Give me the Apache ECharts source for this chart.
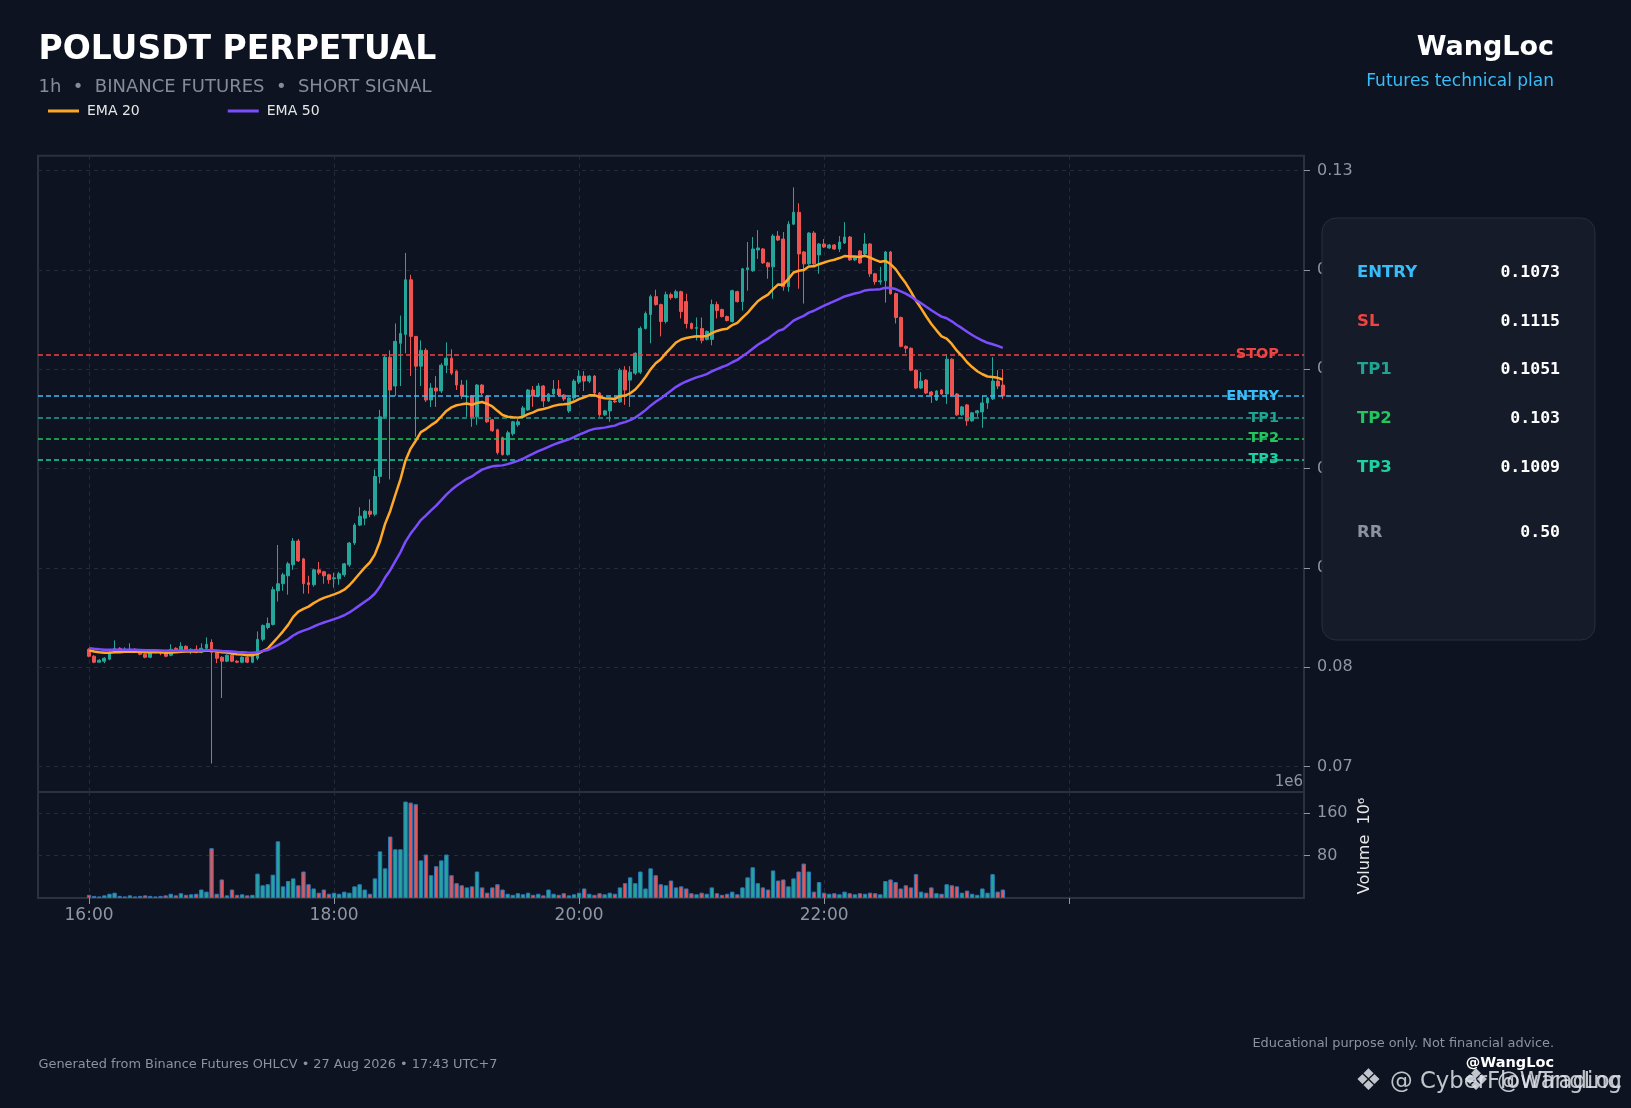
<!DOCTYPE html>
<html>
<head>
<meta charset="utf-8">
<script src="https://cdn.jsdelivr.net/npm/echarts@6/dist/echarts.min.js"></script>
<style>
html,body{margin:0;padding:0;background:#0d1320;}
#c{width:1631px;height:1108px;}
</style>
</head>
<body>
<div id="c"></div>
<script>
// ---------- DATA ----------
// Each row: [open, high, low, close]
const ohlc = [
[.0818,.0819,.0810,.0811],[.0811,.0812,.0804,.0805],[.0805,.0808,.0805,.0807],[.0806,.0810,.0804,.0809],
[.0808,.0816,.0807,.0815],[.0815,.0827,.0814,.0819],[.0819,.0820,.0816,.0817],[.0817,.0820,.0816,.0818],
[.0817,.0824,.0816,.0818],[.0818,.0819,.0815,.0816],[.0817,.0818,.0812,.0813],[.0813,.0814,.0809,.0810],
[.0810,.0816,.0809,.0815],[.0815,.0817,.0814,.0816],[.0816,.0817,.0812,.0814],[.0815,.0816,.0810,.0811],
[.0812,.0823,.0811,.0818],[.0819,.0820,.0815,.0816],[.0816,.0825,.0815,.0821],[.0821,.0822,.0816,.0817],
[.0816,.0819,.0813,.0818],[.0818,.0822,.0814,.0815],[.0815,.0824,.0814,.0819],[.0819,.0830,.0818,.0823],
[.0825,.0828,.0703,.0815],[.0815,.0816,.0804,.0809],[.0810,.0811,.0769,.0806],[.0806,.0813,.0805,.0812],
[.0812,.0813,.0805,.0806],[.0806,.0807,.0804,.0805],[.0805,.0811,.0804,.0810],[.0810,.0811,.0804,.0805],
[.0805,.0812,.0804,.0811],[.0809,.0836,.0807,.0828],[.0828,.0843,.0826,.0842],[.0840,.0850,.0838,.0844],
[.0843,.0881,.0842,.0878],[.0877,.0923,.0866,.0884],[.0884,.0895,.0877,.0893],[.0892,.0906,.0873,.0904],
[.0903,.0930,.0898,.0927],[.0927,.0929,.0906,.0907],[.0909,.0910,.0874,.0884],[.0885,.0892,.0874,.0883],
[.0883,.0899,.0881,.0898],[.0898,.0906,.0893,.0895],[.0896,.0897,.0884,.0892],[.0893,.0894,.0884,.0888],
[.0889,.0895,.0880,.0890],[.0889,.0896,.0883,.0894],[.0893,.0905,.0891,.0904],[.0903,.0926,.0901,.0925],
[.0925,.0945,.0923,.0943],[.0943,.0961,.0942,.0952],[.0950,.0958,.0943,.0957],[.0957,.0969,.0951,.0954],
[.0954,.0999,.0952,.0992],[.0992,.1059,.0985,.1052],[.1052,.1114,.1050,.1112],[.1112,.1119,.0989,.1079],
[.1083,.1146,.1073,.1128],[.1126,.1154,.1083,.1136],[.1135,.1217,.1116,.1190],[.1190,.1195,.1093,.1133],
[.1133,.1133,.1032,.1103],[.1103,.1129,.1083,.1119],[.1119,.1121,.1067,.1069],[.1069,.1086,.1062,.1081],
[.1081,.1093,.1062,.1078],[.1078,.1106,.1076,.1104],[.1104,.1127,.1096,.1111],[.1111,.1120,.1094,.1096],
[.1098,.1099,.1079,.1084],[.1084,.1089,.1070,.1073],[.1072,.1089,.1052,.1073],[.1073,.1074,.1042,.1052],
[.1052,.1085,.1044,.1084],[.1084,.1085,.1074,.1076],[.1073,.1074,.1046,.1047],[.1049,.1050,.1037,.1038],
[.1039,.1040,.1014,.1016],[.1031,.1032,.1013,.1014],[.1014,.1038,.1013,.1036],[.1035,.1048,.1033,.1047],
[.1044,.1050,.1042,.1047],[.1052,.1063,.1051,.1061],[.1059,.1080,.1058,.1079],[.1079,.1083,.1062,.1073],
[.1073,.1086,.1072,.1083],[.1083,.1084,.1062,.1068],[.1068,.1076,.1067,.1075],[.1075,.1089,.1074,.1080],
[.1080,.1089,.1073,.1074],[.1074,.1075,.1068,.1070],[.1058,.1072,.1056,.1071],[.1071,.1090,.1069,.1088],
[.1087,.1099,.1085,.1093],[.1093,.1098,.1078,.1088],[.1088,.1094,.1086,.1093],[.1093,.1094,.1072,.1076],
[.1076,.1077,.1052,.1054],[.1054,.1059,.1053,.1058],[.1058,.1069,.1047,.1068],[.1068,.1073,.1066,.1067],
[.1067,.1101,.1066,.1099],[.1099,.1103,.1064,.1079],[.1089,.1103,.1062,.1097],[.1096,.1117,.1094,.1116],
[.1097,.1143,.1095,.1141],[.1141,.1158,.1140,.1156],[.1155,.1175,.1126,.1173],[.1173,.1180,.1164,.1165],
[.1165,.1166,.1133,.1148],[.1148,.1178,.1146,.1175],[.1175,.1177,.1170,.1172],[.1172,.1180,.1171,.1178],
[.1178,.1179,.1151,.1158],[.1168,.1176,.1141,.1146],[.1146,.1147,.1140,.1141],[.1141,.1152,.1129,.1142],
[.1141,.1152,.1126,.1129],[.1130,.1139,.1129,.1138],[.1130,.1170,.1124,.1165],[.1165,.1168,.1151,.1159],
[.1160,.1161,.1152,.1153],[.1153,.1154,.1148,.1149],[.1148,.1180,.1147,.1179],[.1178,.1179,.1167,.1168],
[.1168,.1202,.1159,.1201],[.1200,.1228,.1179,.1202],[.1199,.1233,.1198,.1221],[.1220,.1240,.1211,.1222],
[.1221,.1222,.1206,.1207],[.1207,.1208,.1191,.1203],[.1203,.1236,.1171,.1234],[.1234,.1239,.1229,.1230],
[.1231,.1238,.1179,.1183],[.1183,.1249,.1178,.1246],[.1246,.1283,.1245,.1258],[.1258,.1267,.1181,.1216],
[.1218,.1219,.1166,.1206],[.1206,.1238,.1205,.1237],[.1237,.1239,.1205,.1206],[.1215,.1227,.1196,.1226],
[.1226,.1231,.1222,.1223],[.1222,.1226,.1221,.1225],[.1225,.1226,.1220,.1221],[.1221,.1234,.1218,.1228],
[.1227,.1248,.1226,.1233],[.1233,.1234,.1209,.1210],[.1210,.1214,.1209,.1213],[.1219,.1220,.1206,.1207],
[.1216,.1237,.1215,.1226],[.1226,.1227,.1193,.1196],[.1196,.1197,.1185,.1188],[.1188,.1203,.1185,.1189],
[.1189,.1219,.1167,.1218],[.1218,.1219,.1175,.1176],[.1176,.1177,.1146,.1152],[.1152,.1153,.1122,.1123],
[.1123,.1124,.1116,.1121],[.1121,.1122,.1098,.1099],[.1099,.1100,.1080,.1081],[.1081,.1097,.1080,.1088],
[.1089,.1090,.1075,.1076],[.1077,.1078,.1066,.1074],[.1069,.1079,.1068,.1078],[.1079,.1080,.1074,.1075],
[.1075,.1115,.1065,.1110],[.1110,.1111,.1073,.1074],[.1075,.1076,.1053,.1054],[.1054,.1063,.1053,.1062],
[.1064,.1065,.1043,.1048],[.1048,.1057,.1047,.1056],[.1056,.1059,.1052,.1058],[.1057,.1073,.1041,.1066],
[.1066,.1072,.1060,.1071],[.1070,.1112,.1069,.1088],[.1088,.1099,.1080,.1083],[.1084,.1100,.1070,.1073]
];
// volume in units of 1e6
const volumes = [
6,4,3,5,8,10,4,3,5,3,
4,5,4,3,4,5,8,5,9,6,
7,8,16,12,94,8,35,5,16,6,
7,5,6,46,24,26,44,107,22,32,
37,24,50,26,18,10,16,8,10,8,
12,10,22,26,16,8,37,88,56,116,
92,92,182,180,177,71,82,43,60,71,
82,43,28,24,20,22,50,20,10,20,
26,16,8,6,9,7,10,6,8,5,
16,8,6,9,5,7,10,18,8,6,
9,7,10,8,20,28,39,28,50,18,
56,43,26,24,33,20,22,18,9,7,
10,8,20,9,6,8,12,7,20,39,
58,28,20,16,52,33,35,22,37,50,
65,50,12,30,10,8,9,7,12,9,
7,9,8,10,9,7,32,35,30,18,
24,20,45,12,10,20,9,8,26,24,
22,10,14,8,6,18,10,45,12,16
];
// EMA values at the first visible candle
const emaStart20 = 0.0817;
const emaStart50 = 0.0819;
// x axis ticks (candle index -> label)
const timeTickIndex = [0, 48, 96, 144, 192];
const timeTickLabels = ['16:00', '18:00', '20:00', '22:00', ''];
// price axis ticks and volume axis ticks
const priceTicks = [0.07, 0.08, 0.09, 0.10, 0.11, 0.12, 0.13];
const volumeTicks = [80, 160];
// trade plan levels
const levelNames = ['STOP', 'ENTRY', 'TP1', 'TP2', 'TP3'];
const levelValues = [0.1115, 0.1073, 0.1051, 0.1030, 0.1009];
const planLabels = ['ENTRY', 'SL', 'TP1', 'TP2', 'TP3', 'RR'];
const planValues = ['0.1073', '0.1115', '0.1051', '0.103', '0.1009', '0.50'];

// ---------- STYLE ----------
const BG = '#0d1320';
const UP = '#26a69a', DOWN = '#ef5350';
const GRID_C = '#242b39';
const AX_TXT = '#8f96a3';
const levelColors = ['#ef4444', '#38bdf8', '#1fa393', '#22c55e', '#1dd1a1'];
const planColors = ['#38bdf8', '#ef4444', '#1fa393', '#22c55e', '#1dd1a1', '#8b93a1'];
const FONT = '"DejaVu Sans", sans-serif';

// ---------- BUILD ----------
const PAD = 10, NCAT = 249;
const cats = [];
for (let c = 0; c < NCAT; c++) cats.push('c' + c);
const tickCats = timeTickIndex.map(i => i + PAD);
const labelAt = {};
tickCats.forEach((c, k) => { labelAt[c] = timeTickLabels[k]; });
const isTick = (idx) => labelAt.hasOwnProperty(idx);

function ema(rows, period, start) {
  const a = 2 / (period + 1);
  const out = [];
  let prev = start;
  rows.forEach((r, i) => {
    prev = (i === 0) ? start : a * r[3] + (1 - a) * prev;
    out.push([i + PAD, prev]);
  });
  return out;
}
const candleData = ohlc.map((r, i) => [i + PAD, r[0], r[3], r[2], r[1]]);
const volData = volumes.map((v, i) => ({
  value: [i + PAD, v],
  itemStyle: { color: ohlc[i][3] >= ohlc[i][0] ? UP : DOWN }
}));
const ema20 = ema(ohlc, 20, emaStart20);
const ema50 = ema(ohlc, 50, emaStart50);

const GL = 38, GW = 1266, GT = 155.7, SEP = 792, GB = 898;

const graphics = [];
function txt(text, x, y, font, fill, align, vAlign, extra) {
  graphics.push(Object.assign({
    type: 'text', x: x, y: y, z: 100, silent: true,
    style: { text: text, font: font, fill: fill, align: align || 'left', verticalAlign: vAlign || 'middle' }
  }, extra || {}));
}
// header
txt('POLUSDT PERPETUAL', 38.5, 50, 'bold 33px ' + FONT, '#ffffff');
txt('1h  \u2022  BINANCE FUTURES  \u2022  SHORT SIGNAL', 38.5, 87, '18px ' + FONT, '#858c99');
txt('WangLoc', 1554, 48, 'bold 27px ' + FONT, '#ffffff', 'right');
txt('Futures technical plan', 1554, 82, '17px ' + FONT, '#38bdf8', 'right');
// volume axis helpers
txt('1e6', 1303, 782, '15px ' + FONT, AX_TXT, 'right');
txt('Volume  10\u2076', 1365, 846, '16px ' + FONT, '#e8e8e8', 'center', 'middle', { rotation: Math.PI / 2 });
// panel
graphics.push({
  type: 'rect', z: 99, silent: true,
  shape: { x: 1322, y: 218, width: 273, height: 422, r: 14 },
  style: { fill: '#151b29', stroke: '#272e3c', lineWidth: 1 }
});
const rowY = [272.5, 321.5, 370, 418.5, 467.5, 532.5];
planLabels.forEach((l, k) => {
  txt(l, 1357, rowY[k], 'bold 16.5px ' + FONT, planColors[k]);
  txt(planValues[k], 1560, rowY[k], 'bold 16.5px "DejaVu Sans Mono", monospace', '#ffffff', 'right');
});
// footer
txt('Generated from Binance Futures OHLCV \u2022 27 Aug 2026 \u2022 17:43 UTC+7', 38.5, 1065, '12.9px ' + FONT, '#8b93a1');
txt('Educational purpose only. Not financial advice.', 1554, 1043.5, '12.9px ' + FONT, '#8b93a1', 'right');
txt('@WangLoc', 1554, 1063, 'bold 14.5px ' + FONT, '#ffffff', 'right');
// watermark (two overlapping marks)
const WM = 'rgba(225,228,234,0.85)';
txt('\u2756', 1368.5, 1082, '30px ' + FONT, WM, 'center');
txt('@ CyberFlowTrading', 1622, 1082, '22.7px ' + FONT, WM, 'right');
txt('\u2756', 1476, 1082, '30px ' + FONT, WM, 'center');
txt('@WangLoc', 1622, 1082, '22.7px ' + FONT, WM, 'right');

const splitDash = { show: true, lineStyle: { color: GRID_C, type: [4, 4], width: 1 } };

const option = {
  backgroundColor: BG,
  animation: false,
  textStyle: { fontFamily: FONT },
  legend: {
    left: 43, top: 99, itemWidth: 31, itemHeight: 3, itemGap: 88, icon: 'rect',
    textStyle: { color: '#e6e6e6', fontSize: 14, padding: [0, 0, 0, 3] },
    data: ['EMA 20', 'EMA 50']
  },
  grid: [
    { left: GL, width: GW, top: GT, height: SEP - GT, show: true, borderColor: '#2b313d', borderWidth: 2, backgroundColor: 'transparent' },
    { left: GL, width: GW, top: SEP, height: GB - SEP, show: true, borderColor: '#2b313d', borderWidth: 2, backgroundColor: 'transparent' }
  ],
  xAxis: [
    {
      type: 'category', gridIndex: 0, data: cats, boundaryGap: false,
      axisLine: { show: false }, axisTick: { show: false }, axisLabel: { show: false },
      splitLine: Object.assign({ interval: (i) => isTick(i) }, splitDash)
    },
    {
      type: 'category', gridIndex: 1, data: cats, boundaryGap: false,
      axisLine: { show: false },
      axisTick: { show: true, interval: (i) => isTick(i), length: 6, lineStyle: { color: AX_TXT } },
      axisLabel: { show: true, interval: (i) => isTick(i), formatter: (v, i) => labelAt[i] || '', color: AX_TXT, fontSize: 17, margin: 9 },
      splitLine: Object.assign({ interval: (i) => isTick(i) }, splitDash)
    }
  ],
  yAxis: [
    {
      type: 'value', gridIndex: 0, position: 'right', scale: true,
      min: 0.067433, max: 0.13149, splitNumber: 6,
      axisLine: { show: false },
      axisTick: { show: true, length: 6, lineStyle: { color: AX_TXT }, customValues: priceTicks },
      axisLabel: { color: AX_TXT, fontSize: 16, margin: 13, customValues: priceTicks, formatter: (v) => v.toFixed(2).replace(/0$/, '') },
      splitLine: splitDash
    },
    {
      type: 'value', gridIndex: 1, position: 'right',
      min: 0, max: 200, interval: 80,
      axisLine: { show: false },
      axisTick: { show: true, length: 6, lineStyle: { color: AX_TXT }, customValues: volumeTicks },
      axisLabel: { color: AX_TXT, fontSize: 16, margin: 13, customValues: volumeTicks },
      splitLine: splitDash
    }
  ],
  series: [
    {
      type: 'candlestick', name: 'Price', xAxisIndex: 0, yAxisIndex: 0,
      data: candleData, encode: { x: 0, y: [1, 2, 3, 4] },
      barWidth: 3.3, z: 3,
      itemStyle: { color: UP, color0: DOWN, borderColor: UP, borderColor0: DOWN, borderWidth: 1 }
    },
    {
      type: 'line', name: 'EMA 20', xAxisIndex: 0, yAxisIndex: 0, data: ema20,
      showSymbol: false, symbol: 'none', z: 5, color: '#ffa726',
      lineStyle: { color: '#ffa726', width: 2.5 },
      markLine: {
        symbol: ['none', 'none'], silent: true, precision: 6,
        lineStyle: { type: [5, 3], width: 1.6 },
        label: { position: 'insideEnd', distance: 25, fontWeight: 'bold', fontSize: 14.5, fontFamily: FONT },
        data: levelNames.map((n, k) => ({
          yAxis: levelValues[k],
          lineStyle: { color: levelColors[k] },
          label: { formatter: n, color: levelColors[k] }
        }))
      }
    },
    {
      type: 'line', name: 'EMA 50', xAxisIndex: 0, yAxisIndex: 0, data: ema50,
      showSymbol: false, symbol: 'none', z: 5, color: '#7c4dff',
      lineStyle: { color: '#7c4dff', width: 2.5 }
    },
    {
      type: 'bar', name: 'Volume', xAxisIndex: 1, yAxisIndex: 1, data: volData,
      barWidth: 4.4, itemStyle: { borderColor: '#2a78bd', borderWidth: 1 }
    }
  ],
  graphic: { elements: graphics }
};

const chart = echarts.init(document.getElementById('c'), null, { renderer: 'canvas', width: 1631, height: 1108 });
chart.setOption(option);
</script>
</body>
</html>
